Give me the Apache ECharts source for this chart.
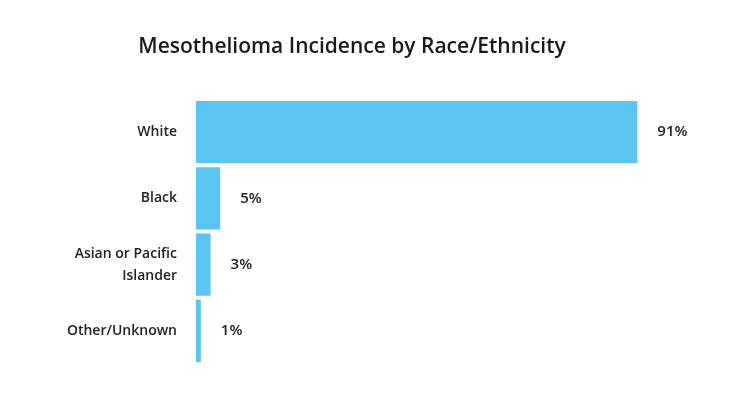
<!DOCTYPE html>
<html>
<head>
<meta charset="utf-8">
<script src="https://cdn.jsdelivr.net/npm/echarts@6/dist/echarts.min.js"></script>
<style>html,body{margin:0;padding:0;background:#fff}#chartMain{width:736px;height:413px}</style>
</head>
<body>
<div id="chartMain"></div>
<script>
var categories = ['White', 'Black', 'Asian or Pacific\nIslander', 'Other/Unknown'];
var values = [91, 5, 3, 1];

var myChart = echarts.init(document.getElementById('chartMain'));
var font = '"Open Sans", sans-serif';
var option = {
	backgroundColor: '#fff',
	title: {
		text: 'Mesothelioma Incidence by Race/Ethnicity',
		left: 347, top: 32, textAlign: 'center',
		textStyle: {fontFamily: font, fontSize: 21, fontWeight: 600, color: '#1a1a1a'}
	},
	grid: {left: 196, right: 55, top: 99, bottom: 49},
	xAxis: {type: 'value', min: 0, max: 100, show: false},
	yAxis: {
		type: 'category', data: categories, inverse: true,
		axisLine: {show: false}, axisTick: {show: false},
		axisLabel: {margin: 19, fontFamily: font, fontSize: 14, fontWeight: 600, color: '#222', lineHeight: 22, align: 'right'}
	},
	series: [{
		type: 'bar', data: values, barCategoryGap: '6%',
		itemStyle: {color: '#5BC4F1'},
		label: {
			show: true, position: 'right', distance: 20,
			formatter: '{c}%',
			fontFamily: font, fontSize: 15, fontWeight: 600, color: '#222'
		}
	}]
};
myChart.setOption(option);
</script>
</body>
</html>
